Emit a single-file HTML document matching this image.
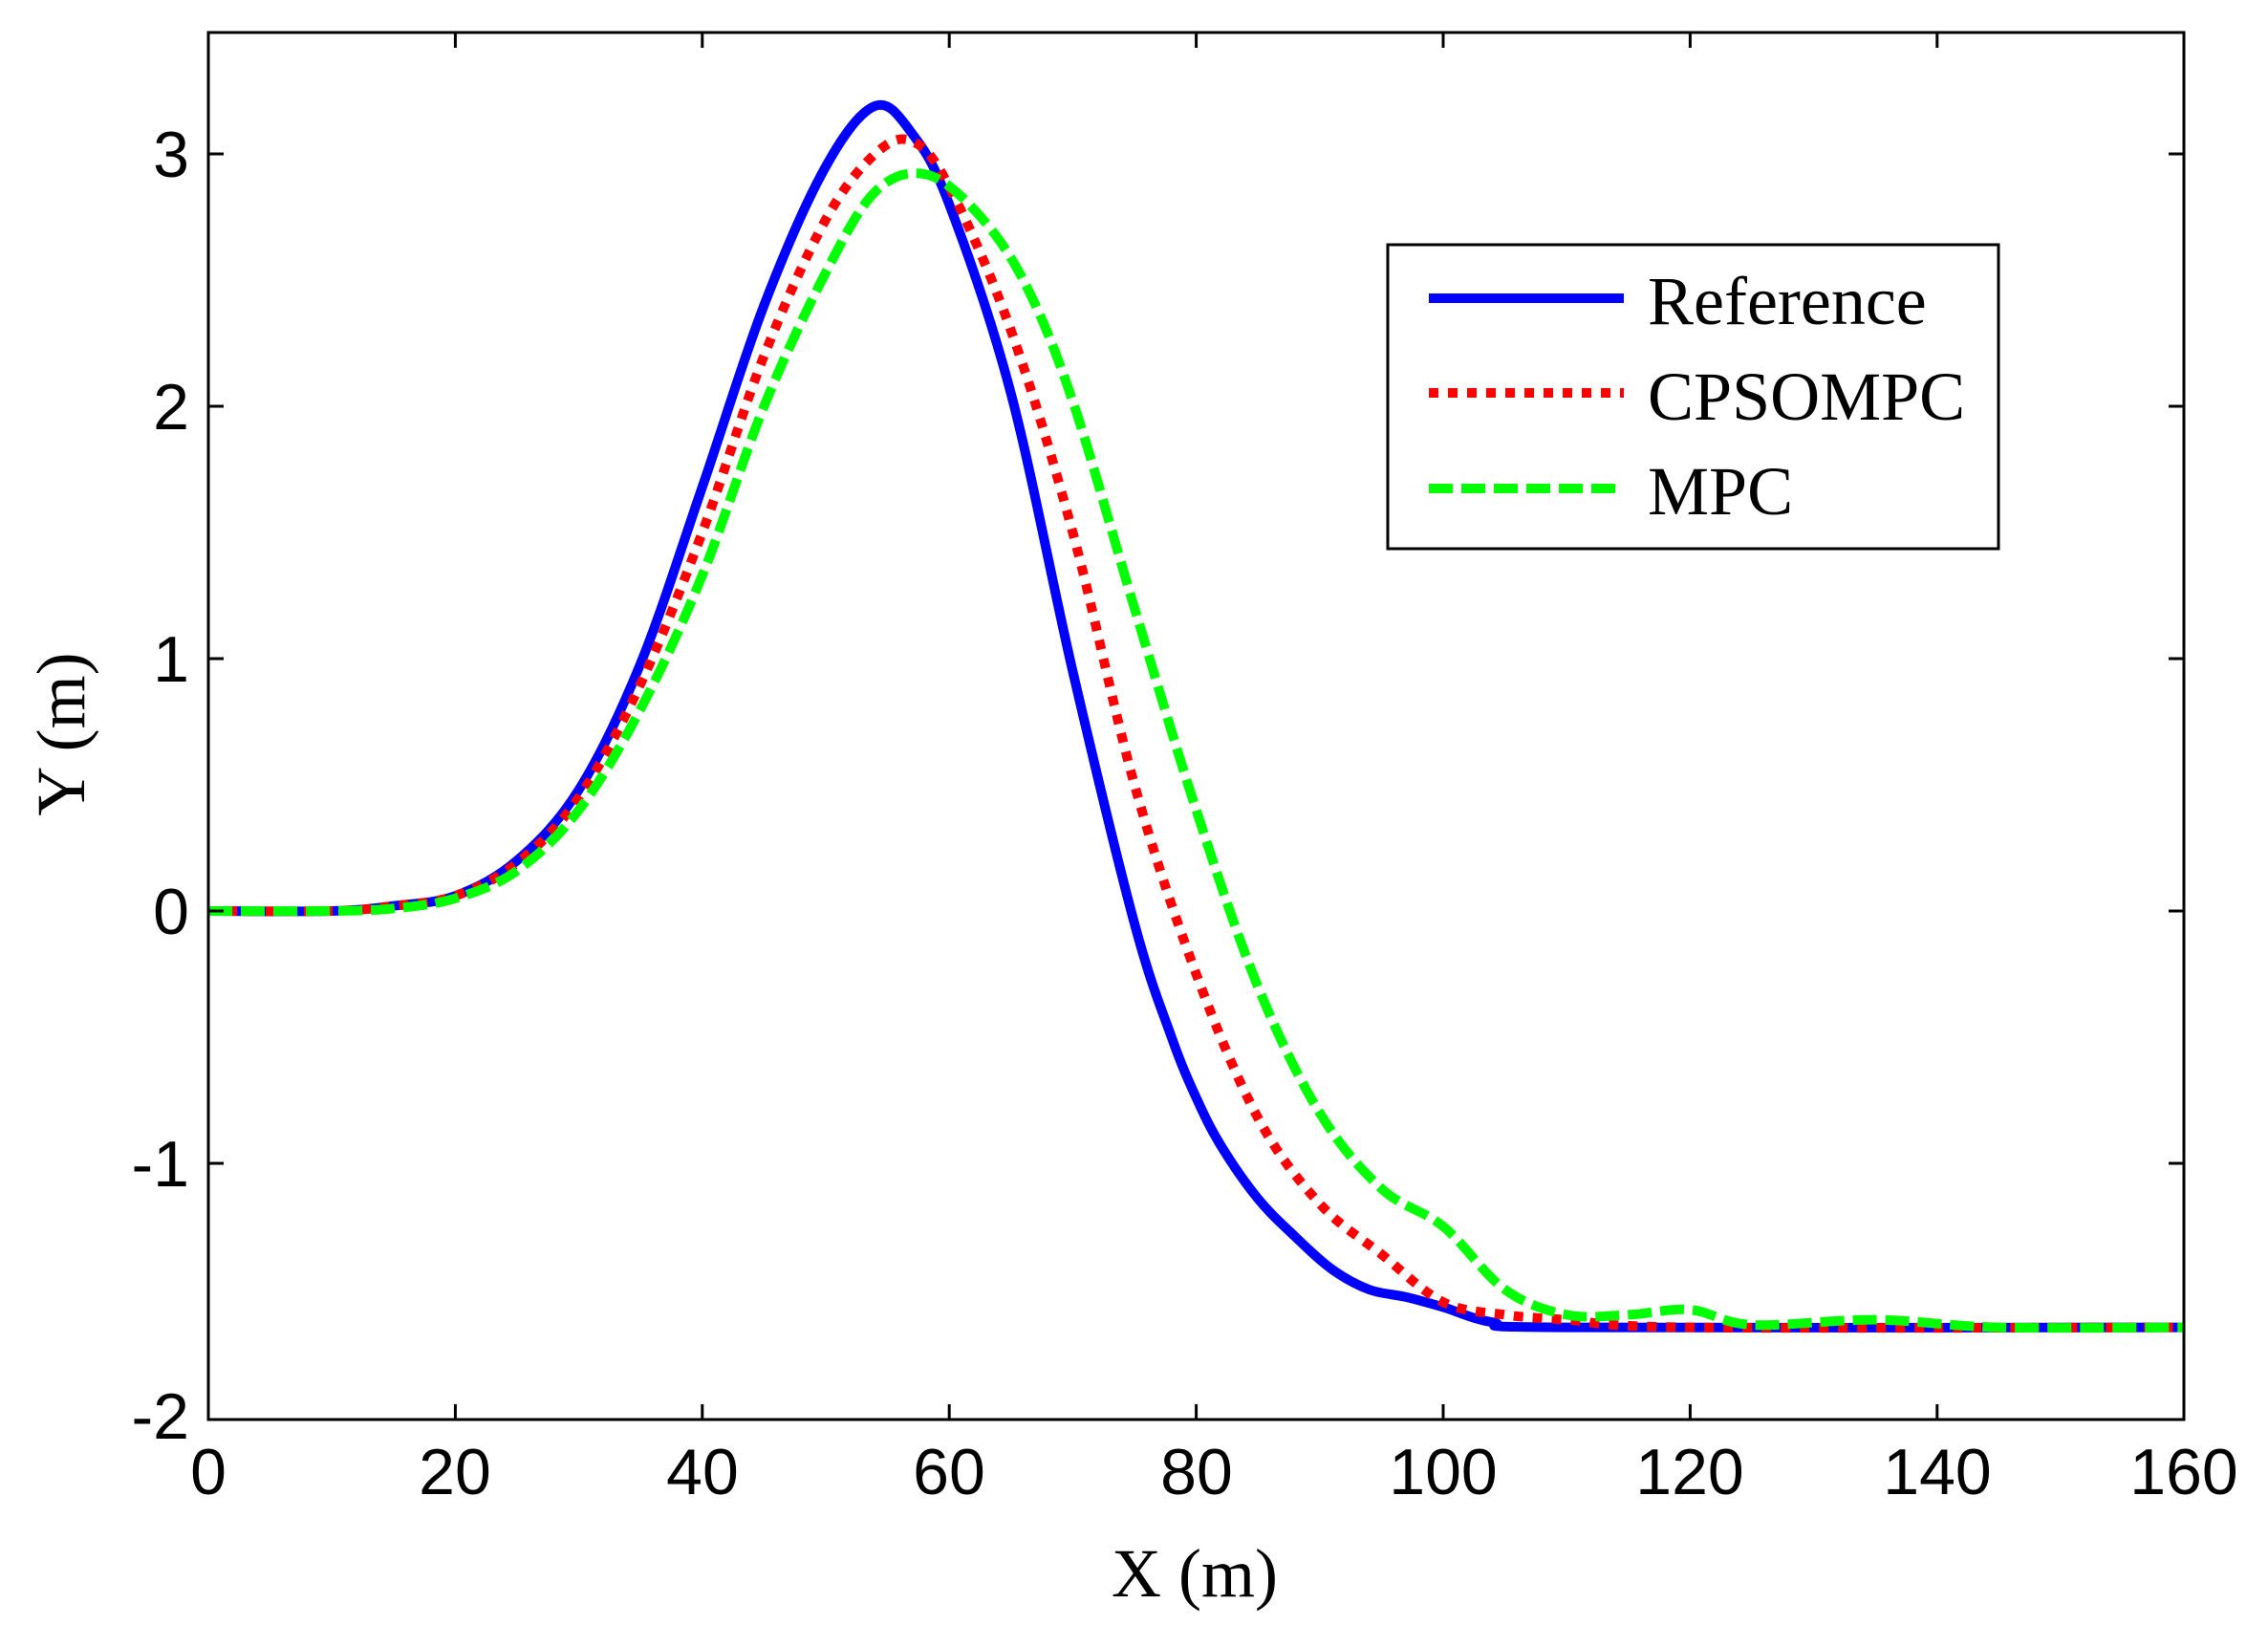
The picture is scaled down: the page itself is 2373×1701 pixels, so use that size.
<!DOCTYPE html>
<html><head><meta charset="utf-8"><style>
html,body{margin:0;padding:0;background:#fff;}
svg{display:block;}
text{fill:#000;}
.t{font-family:"Liberation Sans",sans-serif;font-size:68px;}
.s{font-family:"Liberation Serif",serif;font-size:72px;}
</style></head><body>
<svg id="c" width="2373" height="1701" viewBox="0 0 2373 1701" xmlns="http://www.w3.org/2000/svg">
<rect width="2373" height="1701" fill="#fff"/>
<g id="curves"></g>
<rect x="218" y="34" width="2067" height="1451" fill="none" stroke="#000" stroke-width="3"/>
<g id="ticks" stroke="#000" stroke-width="3"></g>
<g class="t" text-anchor="middle">
<text x="218" y="1563">0</text><text x="476" y="1563">20</text><text x="735" y="1563">40</text><text x="993" y="1563">60</text><text x="1252" y="1563">80</text><text x="1510" y="1563">100</text><text x="1768" y="1563">120</text><text x="2027" y="1563">140</text><text x="2285" y="1563">160</text>
</g>
<g class="t" text-anchor="end">
<text x="198" y="185">3</text><text x="198" y="449">2</text><text x="198" y="713">1</text><text x="198" y="977">0</text><text x="198" y="1241">-1</text><text x="198" y="1505">-2</text>
</g>
<text class="s" x="1250" y="1670" text-anchor="middle">X (m)</text>
<text class="s" x="0" y="0" text-anchor="middle" transform="translate(88,768) rotate(-90)">Y (m)</text>
<rect x="1452" y="256" width="639" height="318" fill="#fff" stroke="#000" stroke-width="3"/>
<line x1="1495" y1="312" x2="1699" y2="312" stroke="#0000ff" stroke-width="10"/>
<line x1="1495" y1="411" x2="1699" y2="411" stroke="#ff0000" stroke-width="10" stroke-dasharray="10 10"/>
<line x1="1495" y1="511" x2="1699" y2="511" stroke="#00ff00" stroke-width="10" stroke-dasharray="25 9"/>
<text class="s" x="1724" y="339">Reference</text>
<text class="s" x="1724" y="439">CPSOMPC</text>
<text class="s" x="1724" y="538">MPC</text>
</svg>
<script>
var X=function(x){return 218+12.92*x;},Y=function(y){return 953-264*y;};
var blue=[[0,0],[10,0],[15,0.02],[20,0.06],[25,0.2],[30,0.48],[35,0.98],[40,1.68],[45,2.4],[50,2.95],[54,3.19],[57,3.08],[60,2.8],[65,2.05],[70,0.95],[75,-0.05],[78,-0.5],[80,-0.74],[82,-0.93],[85,-1.14],[88,-1.29],[91,-1.42],[94,-1.5],[97,-1.53],[100,-1.57],[104,-1.63],[110,-1.65],[160,-1.65]];
var red=[[0,0],[10,0],[15,0.02],[20,0.06],[25,0.19],[30,0.45],[35,0.9],[40,1.5],[45,2.2],[50,2.74],[54,3.0],[57,3.05],[60,2.87],[65,2.3],[70,1.5],[75,0.5],[80,-0.25],[85,-0.82],[90,-1.16],[95,-1.36],[100,-1.55],[105,-1.6],[110,-1.62],[120,-1.65],[160,-1.65]];
var green=[[0,0],[10,0],[15,0.01],[20,0.05],[25,0.16],[30,0.4],[35,0.8],[40,1.33],[45,2.0],[50,2.53],[54,2.85],[58,2.92],[62,2.78],[66,2.5],[70,2.02],[75,1.2],[80,0.4],[85,-0.3],[90,-0.8],[95,-1.1],[100,-1.25],[105,-1.5],[110,-1.6],[115,-1.6],[120,-1.58],[125,-1.64],[135,-1.62],[145,-1.65],[160,-1.65]];
function path(d){var p=d.map(function(a){return [X(a[0]),Y(a[1])];});var s="M"+p[0][0]+","+p[0][1];
for(var i=0;i<p.length-1;i++){var p0=p[Math.max(i-1,0)],p1=p[i],p2=p[i+1],p3=p[Math.min(i+2,p.length-1)];
s+=" C"+(p1[0]+(p2[0]-p0[0])/6)+","+(p1[1]+(p2[1]-p0[1])/6)+" "+(p2[0]-(p3[0]-p1[0])/6)+","+(p2[1]-(p3[1]-p1[1])/6)+" "+p2[0]+","+p2[1];}return s;}
var ns="http://www.w3.org/2000/svg",g=document.getElementById("curves");
[[blue,"#0000ff",""],[red,"#ff0000","10 10"],[green,"#00ff00","25 9"]].forEach(function(c){var e=document.createElementNS(ns,"path");e.setAttribute("d",path(c[0]));e.setAttribute("fill","none");e.setAttribute("stroke",c[1]);e.setAttribute("stroke-width","10");if(c[2])e.setAttribute("stroke-dasharray",c[2]);g.appendChild(e);});
var t=document.getElementById("ticks");
function ln(a,b,c,d){var e=document.createElementNS(ns,"line");e.setAttribute("x1",a);e.setAttribute("y1",b);e.setAttribute("x2",c);e.setAttribute("y2",d);t.appendChild(e);}
for(var x=20;x<160;x+=20){ln(X(x),1485,X(x),1469);ln(X(x),34,X(x),50);}
for(var y=-1;y<=3;y++){ln(218,Y(y),234,Y(y));ln(2285,Y(y),2269,Y(y));}
</script>
</body></html>
